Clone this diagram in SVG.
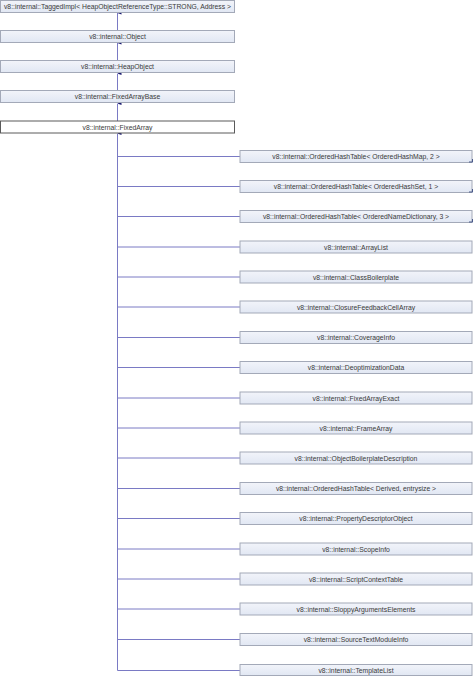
<svg xmlns="http://www.w3.org/2000/svg" width="474" height="676" viewBox="0 0 474 676">
<style>
.b{fill:url(#g);stroke:#a3a9b8;stroke-width:1}
.m{fill:#ffffff;stroke:#5a5a5a;stroke-width:1}
.t{font-family:"Liberation Sans",Arial,sans-serif;font-size:6.8px;fill:#3a3a3a;text-anchor:middle}
.c{stroke:#7a7ac4;stroke-width:1;fill:none}
.k{stroke:#4a5a8a;stroke-width:1;fill:none}
</style>
<defs>
<linearGradient id="g" x1="0" y1="0" x2="0" y2="1">
<stop offset="0" stop-color="#f2f4fa"/>
<stop offset="1" stop-color="#e1e7f3"/>
</linearGradient>
<marker id="a" viewBox="0 0 6 8" refX="3" refY="0" markerWidth="3" markerHeight="4" orient="auto-start-reverse" markerUnits="userSpaceOnUse">
<path d="M3 0 L6 8 L0 8 Z" fill="#1a1a70"/>
</marker>
</defs>
<g id="connectors">
<line class="c" x1="117.5" y1="13" x2="117.5" y2="30" marker-start="url(#a)"/>
<line class="c" x1="117.5" y1="43" x2="117.5" y2="60.5" marker-start="url(#a)"/>
<line class="c" x1="117.5" y1="73.5" x2="117.5" y2="90.5" marker-start="url(#a)"/>
<line class="c" x1="117.5" y1="103.5" x2="117.5" y2="121" marker-start="url(#a)"/>
<line class="c" x1="117.5" y1="133.5" x2="117.5" y2="670.5" marker-start="url(#a)"/>
<path class="c" d="M117.5 156.5H240 M117.5 186.5H240 M117.5 216.5H240 M117.5 247H240 M117.5 277H240 M117.5 307H240 M117.5 337.5H240 M117.5 367.5H240 M117.5 398H240 M117.5 428H240 M117.5 458H240 M117.5 488.5H240 M117.5 518.5H240 M117.5 549H240 M117.5 579H240 M117.5 609H240 M117.5 639.5H240 M117.5 670.5H240"/>
</g>
<g id="n0"><rect class="b" x="0.5" y="0.5" width="234" height="12"/><text class="t" x="117.5" y="9">v8::internal::TaggedImpl&lt; HeapObjectReferenceType::STRONG, Address &gt;</text></g>
<g id="n1"><rect class="b" x="0.5" y="30.5" width="234" height="12"/><text class="t" x="117.5" y="39">v8::internal::Object</text></g>
<g id="n2"><rect class="b" x="0.5" y="60.5" width="234" height="12"/><text class="t" x="117.5" y="69">v8::internal::HeapObject</text></g>
<g id="n3"><rect class="b" x="0.5" y="90.5" width="234" height="12"/><text class="t" x="117.5" y="99">v8::internal::FixedArrayBase</text></g>
<g id="n4"><rect class="m" x="0.5" y="121" width="234" height="12"/><text class="t" x="117.5" y="129.5">v8::internal::FixedArray</text></g>
<g id="c0"><rect class="b" x="240" y="150.5" width="232" height="12"/><path class="k" d="M469 162H472.5V159"/><text class="t" x="356" y="159">v8::internal::OrderedHashTable&lt; OrderedHashMap, 2 &gt;</text></g>
<g id="c1"><rect class="b" x="240" y="180.5" width="232" height="12"/><path class="k" d="M469 192H472.5V189"/><text class="t" x="356" y="189">v8::internal::OrderedHashTable&lt; OrderedHashSet, 1 &gt;</text></g>
<g id="c2"><rect class="b" x="240" y="210.5" width="232" height="12"/><path class="k" d="M469 222H472.5V219"/><text class="t" x="356" y="219">v8::internal::OrderedHashTable&lt; OrderedNameDictionary, 3 &gt;</text></g>
<g id="c3"><rect class="b" x="240" y="241" width="232" height="12"/><text class="t" x="356" y="249.5">v8::internal::ArrayList</text></g>
<g id="c4"><rect class="b" x="240" y="271" width="232" height="12"/><text class="t" x="356" y="279.5">v8::internal::ClassBoilerplate</text></g>
<g id="c5"><rect class="b" x="240" y="301" width="232" height="12"/><text class="t" x="356" y="309.5">v8::internal::ClosureFeedbackCellArray</text></g>
<g id="c6"><rect class="b" x="240" y="331.5" width="232" height="12"/><text class="t" x="356" y="340">v8::internal::CoverageInfo</text></g>
<g id="c7"><rect class="b" x="240" y="361.5" width="232" height="12"/><text class="t" x="356" y="370">v8::internal::DeoptimizationData</text></g>
<g id="c8"><rect class="b" x="240" y="392" width="232" height="12"/><text class="t" x="356" y="400.5">v8::internal::FixedArrayExact</text></g>
<g id="c9"><rect class="b" x="240" y="422" width="232" height="12"/><text class="t" x="356" y="430.5">v8::internal::FrameArray</text></g>
<g id="c10"><rect class="b" x="240" y="452" width="232" height="12"/><text class="t" x="356" y="460.5">v8::internal::ObjectBoilerplateDescription</text></g>
<g id="c11"><rect class="b" x="240" y="482.5" width="232" height="12"/><text class="t" x="356" y="491">v8::internal::OrderedHashTable&lt; Derived, entrysize &gt;</text></g>
<g id="c12"><rect class="b" x="240" y="512.5" width="232" height="12"/><text class="t" x="356" y="521">v8::internal::PropertyDescriptorObject</text></g>
<g id="c13"><rect class="b" x="240" y="543" width="232" height="12"/><text class="t" x="356" y="551.5">v8::internal::ScopeInfo</text></g>
<g id="c14"><rect class="b" x="240" y="573" width="232" height="12"/><text class="t" x="356" y="581.5">v8::internal::ScriptContextTable</text></g>
<g id="c15"><rect class="b" x="240" y="603" width="232" height="12"/><text class="t" x="356" y="611.5">v8::internal::SloppyArgumentsElements</text></g>
<g id="c16"><rect class="b" x="240" y="633.5" width="232" height="12"/><text class="t" x="356" y="642">v8::internal::SourceTextModuleInfo</text></g>
<g id="c17"><rect class="b" x="240" y="664.5" width="232" height="11"/><text class="t" x="356" y="672.5">v8::internal::TemplateList</text></g>
</svg>
